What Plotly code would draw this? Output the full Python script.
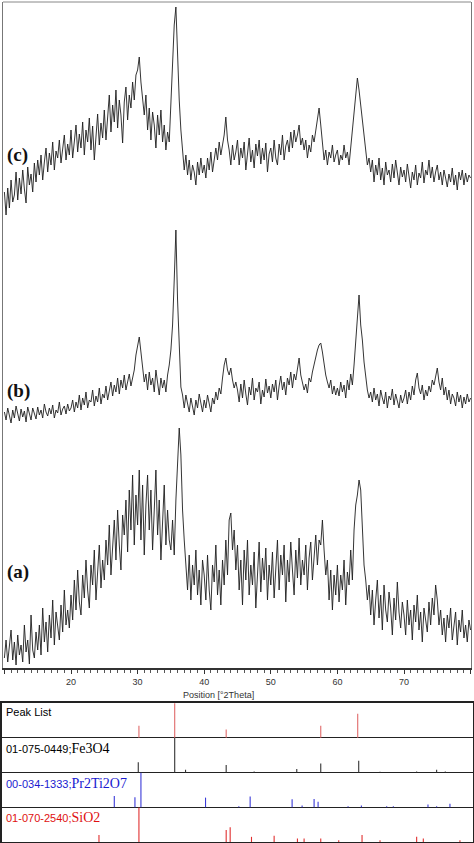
import plotly.graph_objects as go

# 2-theta grid: 10.00 .. 80.00 in 0.25 deg steps
theta_start = 10.0
theta_step = 0.25

# sample (c) - top pattern (offset intensity, a.u.)
curve_c = [
    478, 455, 482, 462, 490, 468, 475, 498, 470, 492, 476, 500, 481, 467, 503, 485, 496, 478, 507, 488,
    510, 495, 515, 490, 508, 522, 498, 517, 505, 528, 500, 519, 512, 530, 507, 521, 535, 510, 526, 515,
    540, 512, 530, 545, 518, 536, 522, 548, 515, 540, 528, 552, 520, 544, 510, 538, 556, 525, 547, 532,
    560, 530, 552, 575, 538, 565, 548, 580, 542, 570, 555, 527, 568, 583, 550, 575, 562, 588, 570, 595,
    600, 613, 588, 568, 555, 575, 540, 562, 530, 558, 545, 522, 555, 535, 560, 528, 545, 520, 538, 528,
    565, 608, 645, 663, 612, 570, 540, 522, 500, 515, 495, 510, 490, 505, 498, 485, 508, 495, 512, 497,
    505, 492, 512, 500, 518, 498, 508, 522, 510, 528, 515, 525, 535, 553, 530, 520, 505, 525, 510, 518,
    530, 505, 522, 512, 528, 500, 518, 532, 508, 520, 502, 526, 514, 530, 506, 522, 510, 527, 498, 516,
    522, 508, 530, 512, 505, 526, 515, 535, 510, 524, 530, 518, 538, 522, 540, 528, 535, 545, 525, 532,
    520, 530, 512, 525, 518, 535, 528, 540, 548, 562, 545, 525, 510, 520, 505, 518, 512, 525, 508, 515,
    520, 505, 515, 510, 525, 512, 518, 505, 522, 535, 555, 568, 592, 580, 565, 548, 530, 520, 505, 512,
    498, 510, 488, 505, 495, 512, 490, 502, 485, 508, 495, 500, 488, 506, 492, 510, 496, 485, 503, 493,
    500, 488, 506, 495, 482, 498, 490, 505, 485, 497, 492, 508, 487, 500, 495, 510, 492, 503, 488, 498,
    505, 490, 498, 485, 500, 492, 483, 496, 488, 502, 485, 495, 480, 498, 490, 500, 485, 497, 488, 495,
    492,
]

# sample (b) - middle pattern
curve_b = [
    258, 250, 262, 255, 247, 260, 252, 264, 256, 249, 261, 253, 259, 248, 263, 255, 250, 262, 257, 251,
    263, 255, 260, 252, 266, 258, 254, 262, 256, 265, 252, 260, 257, 268, 255, 261, 264, 256, 266, 259,
    262, 270, 258, 268, 262, 275, 260, 272, 265, 278, 262, 270, 268, 280, 264, 274, 268, 282, 266, 276,
    272, 284, 270, 280, 288, 274, 285, 278, 292, 276, 290, 282, 295, 280, 287, 296, 284, 292, 300, 315,
    325, 333, 318, 300, 288, 296, 280, 298, 285, 292, 278, 300, 286, 275, 292, 282, 290, 278, 295, 305,
    320, 345, 390, 440, 370, 320, 283, 275, 262, 275, 268, 258, 272, 264, 255, 270, 262, 276, 266, 258,
    270, 262, 275, 265, 258, 272, 266, 278, 270, 282, 276, 292, 305, 312, 300, 295, 302, 290, 282, 288,
    280, 268, 286, 272, 290, 276, 265, 283, 275, 292, 270, 282, 278, 288, 266, 280, 273, 291, 277, 284,
    272, 286, 278, 290, 270, 284, 294, 280, 288, 275, 292, 285, 298, 282, 296, 290, 302, 312, 295, 288,
    280, 286, 277, 292, 288, 298, 305, 315, 320, 325, 327, 318, 305, 295, 288, 282, 290, 276, 284, 275,
    282, 274, 288, 278, 285, 272, 290, 280, 296, 285, 305, 330, 360, 375, 345, 330, 308, 290, 280, 272,
    278, 268, 282, 270, 276, 264, 280, 272, 266, 278, 262, 274, 270, 281, 265, 276, 268, 262, 275, 267,
    272, 280, 266, 278, 270, 284, 275, 290, 297, 282, 276, 285, 270, 280, 274, 284, 278, 290, 285, 295,
    302, 288, 280, 292, 275, 283, 270, 280, 266, 276, 272, 264, 278, 268, 275, 262, 273, 266, 276, 268,
    272,
]

# sample (a) - bottom pattern
curve_a = [
    12, 30, 8, 22, 40, 10, 28, 5, 35, 15, 25, 8, 45, 18, 30, 6, 55, 20, 12, 38,
    20, 45, 15, 62, 28, 48, 18, 55, 32, 70, 25, 58, 40, 30, 65, 38, 80, 45, 60, 42,
    75, 50, 90, 60, 100, 68, 55, 95, 72, 110, 80, 62, 105, 85, 120, 70, 98, 125, 82, 110,
    90, 130, 105, 145, 95, 120, 150, 110, 160, 125, 100, 155, 135, 170, 118, 180, 140, 195, 125, 175,
    145, 200, 130, 185, 115, 165, 195, 140, 180, 120, 160, 200, 135, 170, 110, 150, 185, 125, 160, 130,
    120, 150, 115, 170, 200, 242, 215, 160, 130, 100, 80, 115, 70, 105, 85, 120, 75, 100, 65, 110,
    95, 70, 115, 80, 60, 105, 88, 125, 75, 100, 65, 110, 85, 130, 95, 150, 157, 120, 140, 100,
    125, 80, 110, 65, 120, 90, 130, 75, 105, 85, 118, 62, 100, 128, 78, 112, 90, 122, 70, 105,
    85, 118, 72, 108, 130, 80, 115, 95, 125, 68, 110, 88, 128, 100, 75, 120, 92, 132, 85, 110,
    95, 125, 80, 112, 128, 90, 118, 135, 105, 130, 125, 150, 120, 95, 110, 70, 100, 60, 95, 75,
    105, 68, 95, 80, 110, 65, 98, 85, 120, 90, 140, 165, 175, 190, 180, 140, 105, 90, 70, 85,
    55, 80, 45, 70, 90, 52, 75, 40, 85, 60, 48, 78, 62, 35, 72, 50, 88, 58, 42, 68,
    55, 35, 70, 45, 60, 30, 65, 48, 75, 40, 58, 28, 62, 50, 38, 68, 45, 72, 55, 85,
    70, 45, 60, 35, 52, 28, 55, 42, 62, 30, 48, 58, 25, 50, 38, 60, 32, 45, 28, 50,
    40,
]

sample_labels = ["(a)", "(b)", "(c)"]

# reference patterns: (2theta, relative height)
peak_list_pos = [30.2, 35.57, 43.3, 57.5, 63.05]
peak_list_h = [0.35, 1.0, 0.24, 0.35, 0.70]

fe3o4_pos = [30.1, 35.57, 37.2, 43.3, 47.5, 53.9, 57.5, 63.2, 66.4, 71.9, 74.9, 76.2]
fe3o4_h = [0.30, 1.0, 0.08, 0.22, 0.03, 0.10, 0.26, 0.34, 0.02, 0.03, 0.08, 0.03]

pr2ti2o7_pos = [26.5, 29.6, 30.5, 40.2, 45.2, 46.9, 53.2, 54.7, 56.5, 57.1, 61.6, 63.6, 67.4, 68.4, 73.6, 74.9, 76.9]
pr2ti2o7_h = [0.33, 0.29, 1.0, 0.28, 0.03, 0.31, 0.23, 0.05, 0.24, 0.16, 0.03, 0.05, 0.03, 0.03, 0.08, 0.03, 0.10]

sio2_pos = [24.2, 30.2, 43.3, 43.9, 47.1, 50.5, 54.0, 55.0, 57.5, 60.2, 63.7, 66.4, 71.9, 72.9, 78.4]
sio2_h = [0.20, 1.0, 0.35, 0.43, 0.15, 0.18, 0.10, 0.10, 0.10, 0.05, 0.20, 0.05, 0.15, 0.10, 0.05]

ref_rows = [
    ("Peak List", peak_list_pos, peak_list_h, "#e06a6a", "#000000"),
    ("01-075-0449;Fe3O4", fe3o4_pos, fe3o4_h, "#333333", "#000000"),
    ("00-034-1333;Pr2Ti2O7", pr2ti2o7_pos, pr2ti2o7_h, "#3a3ad8", "#1a1ad0"),
    ("01-070-2540;SiO2", sio2_pos, sio2_h, "#e03030", "#e01010"),
]

W, H = 474, 843


def px_x(p):
    return p / W


def px_y(p):
    return (H - p) / H


theta = [theta_start + i * theta_step for i in range(len(curve_a))]

fig = go.Figure()
for yv in (curve_a, curve_b, curve_c):
    fig.add_trace(go.Scatter(x=theta, y=yv, mode="lines",
                             line=dict(color="#1e1e1e", width=0.9),
                             showlegend=False, hoverinfo="skip",
                             xaxis="x", yaxis="y"))

# reference stick patterns, 4 rows: row index 3 = top (Peak List)
n_rows = len(ref_rows)
for i, (name, pos, hh, col, tcol) in enumerate(ref_rows):
    base = n_rows - 1 - i
    xs, ys = [], []
    for p, h in zip(pos, hh):
        xs += [p, p, None]
        ys += [base, base + h * 0.99, None]
    fig.add_trace(go.Scatter(x=xs, y=ys, mode="lines",
                             line=dict(color=col, width=1.1),
                             showlegend=False, hoverinfo="skip",
                             xaxis="x2", yaxis="y2"))

# main x mapping: px = 71 + (theta - 20) * 6.66
scale = 6.66
main_l, main_r = 3, 471
bot_l, bot_r = 2, 473

fig.update_layout(
    width=W, height=H,
    margin=dict(l=0, r=0, t=0, b=0),
    paper_bgcolor="white", plot_bgcolor="white",
    xaxis=dict(domain=[px_x(main_l), px_x(main_r)],
               range=[20 - (71 - main_l) / scale, 20 + (main_r - 71) / scale],
               tick0=0, dtick=10, ticks="outside", ticklen=4, tickcolor="#333",
               tickfont=dict(family="Liberation Sans", size=9, color="#333"),
               showline=True, linecolor="#333", linewidth=1.5, mirror=False,
               showgrid=False, zeroline=False, anchor="y",
               minor=dict(dtick=1, ticks="outside", ticklen=3, tickcolor="#555")),
    yaxis=dict(domain=[px_y(668), px_y(2)], range=[2, 668],
               showticklabels=False, ticks="", showgrid=False, zeroline=False,
               showline=True, linecolor="#777", linewidth=1, mirror=True, anchor="x"),
    xaxis2=dict(domain=[px_x(bot_l), px_x(bot_r)],
                range=[20 - (71 - bot_l) / scale, 20 + (bot_r - 71) / scale],
                showticklabels=False, ticks="", showgrid=False, zeroline=False,
                showline=True, linecolor="#222", linewidth=1.5, mirror=True, anchor="y2"),
    yaxis2=dict(domain=[px_y(842), px_y(703)], range=[0, n_rows],
                tick0=0, dtick=1, showticklabels=False, ticks="",
                showgrid=True, gridcolor="#222", gridwidth=1, zeroline=False,
                showline=True, linecolor="#222", linewidth=1.5, mirror=True, anchor="x2"),
)

# top border of main frame
fig.add_shape(type="line", xref="paper", yref="paper",
              x0=px_x(main_l), x1=px_x(main_r), y0=px_y(2), y1=px_y(2),
              line=dict(color="#888", width=1))

# sample labels
label_y = [572, 391, 155]
for lab, yy in zip(sample_labels, label_y):
    fig.add_annotation(text="<b>%s</b>" % lab, xref="paper", yref="paper",
                       x=px_x(5), y=px_y(yy), xanchor="left", yanchor="middle",
                       showarrow=False,
                       font=dict(family="Liberation Serif", size=19, color="#111"))

# axis title
fig.add_annotation(text="Position [°2Theta]", xref="paper", yref="paper",
                   x=px_x(218), y=px_y(695), xanchor="center", yanchor="middle",
                   showarrow=False,
                   font=dict(family="Liberation Sans", size=9, color="#333"))

# reference row labels
row_label_top = [704, 739, 774, 808]
for (name, pos, hh, col, tcol), yy in zip(ref_rows, row_label_top):
    if ";" in name:
        code, formula = name.split(";")
        txt = ('%s;<span style="font-family:Liberation Serif;font-size:14px">%s</span>'
               % (code, formula))
    else:
        txt = name
    fig.add_annotation(text=txt, xref="paper", yref="paper",
                       x=px_x(4), y=px_y(yy), xanchor="left", yanchor="top",
                       showarrow=False,
                       font=dict(family="Liberation Sans", size=11, color=tcol))

fig.write_html("out.html",
               config={"displayModeBar": False},
               post_script="document.body.style.margin='0';"
                           "document.body.style.overflow='hidden';")
